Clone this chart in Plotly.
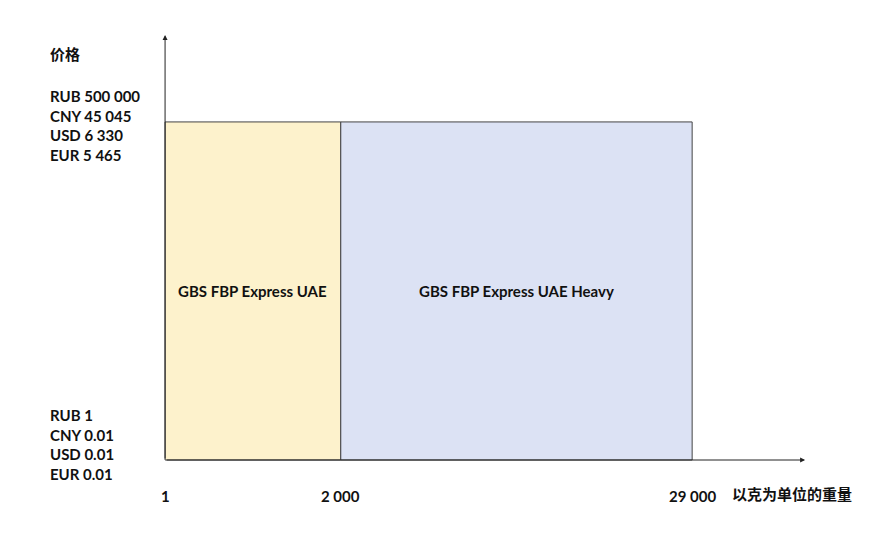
import plotly.graph_objects as go

weight_labels = ["1", "2 000", "29 000"]
boundary_pos = [0, 1, 3]
services = ["GBS FBP Express UAE", "GBS FBP Express UAE Heavy"]
fills = ["#FDF2CC", "#DCE2F4"]
price_max_label = "RUB 500 000<br>CNY 45 045<br>USD 6 330<br>EUR 5 465"
price_min_label = "RUB 1<br>CNY 0.01<br>USD 0.01<br>EUR 0.01"
price_top = 1

F = dict(family="Lato, Noto Sans CJK SC", size=15, color="#111")
fig = go.Figure()
for i, name in enumerate(services):
    x0, x1 = boundary_pos[i], boundary_pos[i + 1]
    fig.add_trace(go.Scatter(x=[x0, x1, x1, x0, x0], y=[0, 0, price_top, price_top, 0],
                             fill="toself", fillcolor=fills[i], mode="lines",
                             line=dict(color="#444", width=1), hoverinfo="skip"))
    fig.add_annotation(x=(x0 + x1) / 2, y=0.5, text="<b>%s</b>" % name, showarrow=False, font=F)

fig.add_annotation(x=3.643, y=0, ax=0, ay=0, axref="x", ayref="y", showarrow=True,
                   arrowhead=2, arrowsize=1, arrowwidth=1, arrowcolor="#222", text="")
fig.add_annotation(x=0, y=1.257, ax=0, ay=0, axref="x", ayref="y", showarrow=True,
                   arrowhead=2, arrowsize=1, arrowwidth=1, arrowcolor="#222", text="")

for lab, pos in zip(weight_labels, boundary_pos):
    fig.add_annotation(x=pos, y=-0.105, text="<b>%s</b>" % lab, showarrow=False, font=F)
fig.add_annotation(x=3.214, y=-0.102, text="<b>以克为单位的重量</b>", showarrow=False,
                   font=F, xanchor="left")
fig.add_annotation(x=-0.666, y=1.202, text="<b>价格</b>", showarrow=False, font=F, xanchor="left")
fig.add_annotation(x=-0.666, y=price_top - 0.01, text="<b>%s</b>" % price_max_label, showarrow=False,
                   font=F, xanchor="left", align="left")
fig.add_annotation(x=-0.666, y=0.045, text="<b>%s</b>" % price_min_label, showarrow=False,
                   font=F, xanchor="left", align="left")

fig.update_layout(width=879, height=547, margin=dict(l=0, r=0, t=0, b=0),
                  plot_bgcolor="white", paper_bgcolor="white", showlegend=False,
                  xaxis=dict(range=[-0.894, 4.109], visible=False, fixedrange=True),
                  yaxis=dict(range=[-0.281, 1.337], visible=False, fixedrange=True))
fig.write_html("out.html")
